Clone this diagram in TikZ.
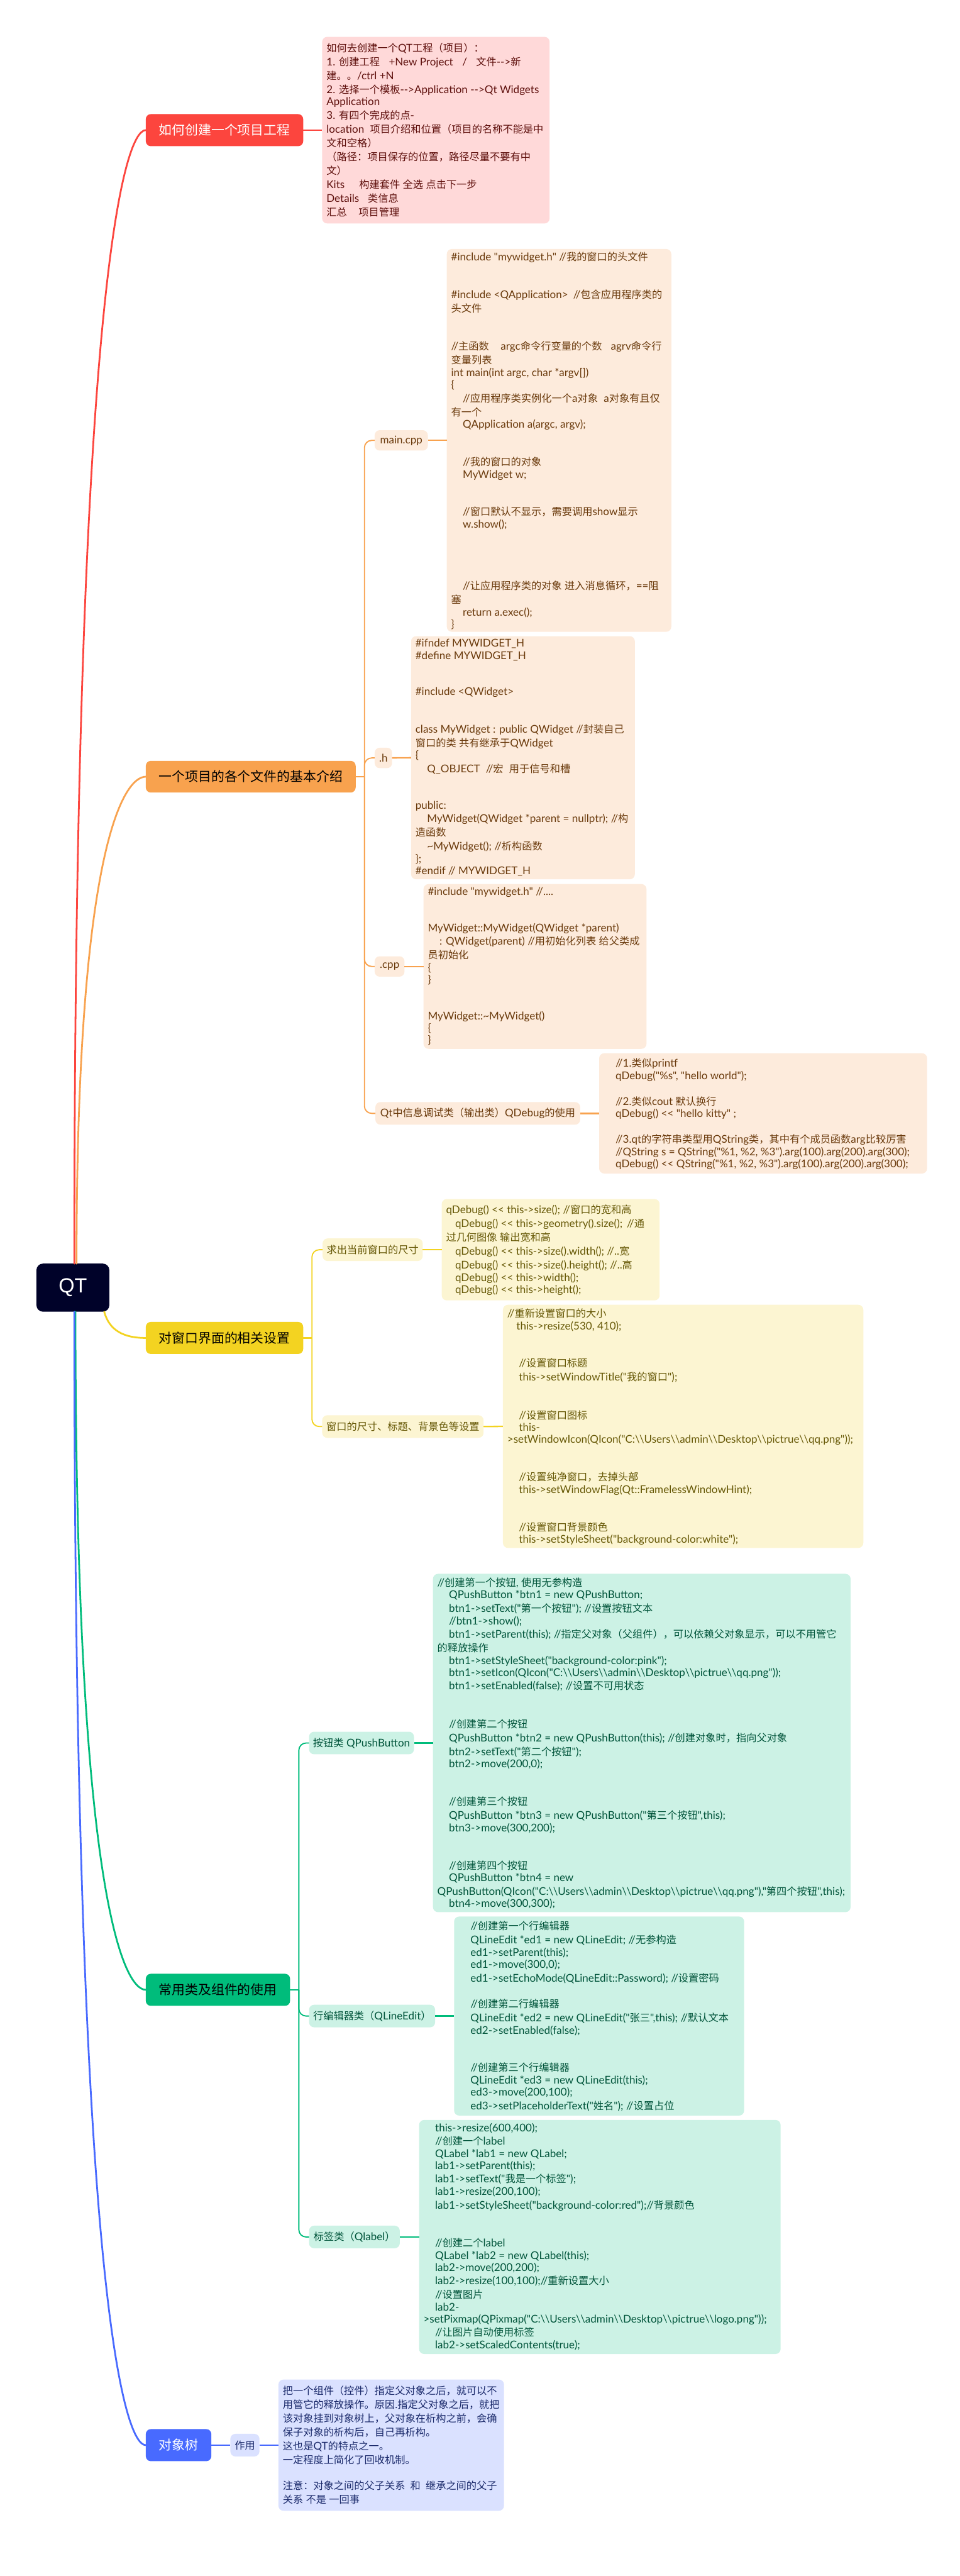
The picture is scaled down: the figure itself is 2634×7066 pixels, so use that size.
\documentclass[tikz,border=0pt]{standalone}
\usepackage{fontspec}
\newfontfamily\latinfont[Scale=1.05]{Lato}
\newfontfamily\cjkfont{Noto Sans CJK SC}
\newfontfamily\qtfont{Liberation Sans}
% CJK characters switch font by themselves
\XeTeXinterchartokenstate=1
\newcount\cjkcnt
\cjkcnt="2E80
\loop\ifnum\cjkcnt<"A000 \XeTeXcharclass\cjkcnt=1 \advance\cjkcnt by 1 \repeat
\cjkcnt="FF00
\loop\ifnum\cjkcnt<"FFF0 \XeTeXcharclass\cjkcnt=1 \advance\cjkcnt by 1 \repeat
\XeTeXinterchartoks 0 1 = {\cjkfont}
\XeTeXinterchartoks 4095 1 = {\cjkfont}
\XeTeXinterchartoks 1 0 = {\latinfont}
\XeTeXinterchartoks 1 4095 = {\latinfont}
\newdimen\pxu \pxu=0.5pt
\newcommand{\lL}[1]{\hbox{\vrule width0pt height12.5pt depth4pt\relax #1}}
\newcommand{\lC}[1]{\hbox{\vrule width0pt height14.5pt depth4.5pt\relax #1}}
\newcommand{\ikb}{\kern32\pxu}
\newcommand{\ika}{\kern25\pxu}
\newcommand{\sk}[1]{\kern#1\pxu}
\newcommand{\bsone}{\hbox to 12.5\pxu{\hss\textbackslash\hss}}
\newcommand{\bbs}{\bsone\bsone}
\newcommand{\tld}{\textasciitilde}
\newcommand{\notetext}[2]{\hbox to #1\pxu{\kern12\pxu\vbox{\offinterlineskip #2}\hss}}
\definecolor{redm}{HTML}{FC453E}\definecolor{redb}{HTML}{FFD9D9}\definecolor{redt}{HTML}{5E0F0C}
\definecolor{orm}{HTML}{F8A24E}\definecolor{orb}{HTML}{FDEBDC}\definecolor{ort}{HTML}{6A3A0C}
\definecolor{yem}{HTML}{F3D321}\definecolor{yeb}{HTML}{FCF5D2}\definecolor{yet}{HTML}{665806}
\definecolor{grm}{HTML}{00BC7B}\definecolor{grb}{HTML}{CCF2E5}\definecolor{grt}{HTML}{00543A}
\definecolor{blm}{HTML}{486AFF}\definecolor{blb}{HTML}{DAE1FF}\definecolor{blt}{HTML}{1B2A6B}
\definecolor{rootc}{HTML}{000229}
\tikzset{
 sz/.style 2 args={minimum width=#1*0.5pt,minimum height=#2*0.5pt},
 basebox/.style={rectangle,rounded corners=7pt,inner sep=0pt,outer sep=0pt},
 rootbox/.style={basebox,fill=rootc,text=white,rounded corners=9pt,font=\fontsize{28}{34}\selectfont\qtfont},
 mainbox/.style={basebox,font=\fontsize{18}{22}\selectfont\latinfont},
 kid/.style={basebox,font=\fontsize{14}{18}\selectfont\latinfont},
 notebox/.style={basebox,font=\fontsize{14}{18}\selectfont\latinfont},
 rootline/.style={line width=2.4pt,line cap=round},
 stem/.style={line width=2pt},
 trunk/.style={line width=1.6pt,rounded corners=10pt},
}
\begin{document}
\begin{tikzpicture}[x=0.5pt,y=-0.5pt]
\useasboundingbox (0,0) rectangle (2634,7066);
% root
\node[rootbox,sz={200}{132}] (qt) at (200,3532) {QT};
% main topics
\node[mainbox,sz={432}{88},fill=redm,text=white] (m1) at (616,357) {如何创建一个项目工程};
\node[mainbox,sz={576}{87},fill=orm,text=black] (m2) at (688,2130.5) {一个项目的各个文件的基本介绍};
\node[mainbox,sz={432}{88},fill=yem,text=black] (m3) at (616,3670) {对窗口界面的相关设置};
\node[mainbox,sz={396}{88},fill=grm,text=black] (m4) at (598,5458) {常用类及组件的使用};
\node[mainbox,sz={180}{88},fill=blm,text=white] (m5) at (490,6707) {对象树};
% red note
\node[notebox,sz={624}{512},fill=redb,text=redt] (n1) at (1196,357) {\notetext{624}{%
\lC{如何去创建一个QT工程（项目）：}
\lC{1. 创建工程\sk{25}+New Project\sk{25}/\sk{25}文件-->新}
\lC{建。。/ctrl +N}
\lC{2. 选择一个模板-->Application -->Qt Widgets}
\lL{Application}
\lC{3. 有四个完成的点-}
\lC{location\sk{16}项目介绍和位置（项目的名称不能是中}
\lC{文和空格）}
\lC{（路径：项目保存的位置，路径尽量不要有中}
\lC{文）}
\lC{Kits\sk{40}构建套件 全选 点击下一步}
\lC{Details\sk{24}类信息}
\lC{汇总\sk{32}项目管理}}};
% orange children
\node[kid,sz={146}{56},fill=orb,text=ort] (c21) at (1101,1208) {main.cpp};
\node[kid,sz={48}{56},fill=orb,text=ort] (c22) at (1052,2079) {.h};
\node[kid,sz={82}{56},fill=orb,text=ort] (c23) at (1069,2651) {.cpp};
\node[kid,sz={562}{62},fill=orb,text=ort] (c24) at (1311,3054) {Qt中信息调试类（输出类）QDebug的使用};
\node[notebox,sz={616}{1050},fill=orb,text=ort] (n21) at (1534,1208) {\notetext{616}{%
\lC{\#include "mywidget.h" //我的窗口的头文件}
\lL{}\lL{}
\lC{\#include <QApplication>\sk{14}//包含应用程序类的}
\lC{头文件}
\lL{}\lL{}
\lC{//主函数\sk{32}argc命令行变量的个数\sk{24}agrv命令行}
\lC{变量列表}
\lL{int main(int argc, char *argv[])}
\lL{\{}
\lC{\ikb//应用程序类实例化一个a对象\sk{16}a对象有且仅}
\lC{有一个}
\lL{\ikb QApplication a(argc, argv);}
\lL{}\lL{}
\lC{\ikb//我的窗口的对象}
\lL{\ikb MyWidget w;}
\lL{}\lL{}
\lC{\ikb//窗口默认不显示，需要调用show显示}
\lL{\ikb w.show();}
\lL{}\lL{}\lL{}\lL{}
\lC{\ikb//让应用程序类的对象 进入消息循环，==阻}
\lC{塞}
\lL{\ikb return a.exec();}
\lL{\}}}};
\node[notebox,sz={614}{667},fill=orb,text=ort] (n22) at (1435,2078.5) {\notetext{614}{%
\lL{\#ifndef MYWIDGET\_H}
\lL{\#define MYWIDGET\_H}
\lL{}\lL{}
\lL{\#include <QWidget>}
\lL{}\lL{}
\lC{class MyWidget : public QWidget //封装自己}
\lC{窗口的类 共有继承于QWidget}
\lL{\{}
\lC{\ikb Q\_OBJECT\sk{16}//宏\sk{16}用于信号和槽}
\lL{}\lL{}
\lL{public:}
\lC{\ikb MyWidget(QWidget *parent = nullptr); //构}
\lC{造函数}
\lC{\ikb\tld MyWidget(); //析构函数}
\lL{\};}
\lL{\#endif // MYWIDGET\_H}}};
\node[notebox,sz={612}{452},fill=orb,text=ort] (n23) at (1468,2651) {\notetext{612}{%
\lL{\#include "mywidget.h" //....}
\lL{}\lL{}
\lL{MyWidget::MyWidget(QWidget *parent)}
\lC{\ikb: QWidget(parent) //用初始化列表 给父类成}
\lC{员初始化}
\lL{\{}
\lL{\}}
\lL{}\lL{}
\lL{MyWidget::\tld MyWidget()}
\lL{\{}
\lL{\}}}};
\node[notebox,sz={900}{330},fill=orb,text=ort] (n24) at (2094,3054) {\notetext{900}{%
\lC{\kern33\pxu//1.类似printf}
\lL{\kern33\pxu qDebug("\%s", "hello world");}
\lL{}
\lC{\kern33\pxu//2.类似cout 默认换行}
\lL{\kern33\pxu qDebug() << "hello kitty" ;}
\lL{}
\lC{\kern33\pxu//3.qt的字符串类型用QString类，其中有个成员函数arg比较厉害}
\lL{\kern33\pxu//QString s = QString("\%1, \%2, \%3").arg(100).arg(200).arg(300);}
\lL{\kern33\pxu qDebug() << QString("\%1, \%2, \%3").arg(100).arg(200).arg(300);}}};
% yellow children
\node[kid,sz={275}{62},fill=yeb,text=yet] (c31) at (1022.5,3428) {求出当前窗口的尺寸};
\node[kid,sz={443}{62},fill=yeb,text=yet] (c32) at (1105.5,3913) {窗口的尺寸、标题、背景色等设置};
\node[notebox,sz={598}{278},fill=yeb,text=yet] (n31) at (1511,3428) {\notetext{598}{%
\lC{qDebug() << this->size(); //窗口的宽和高}
\lC{\ika qDebug() << this->geometry().size();\sk{12}//通}
\lC{过几何图像 输出宽和高}
\lC{\ika qDebug() << this->size().width(); //..宽}
\lC{\ika qDebug() << this->size().height(); //..高}
\lL{\ika qDebug() << this->width();}
\lL{\ika qDebug() << this->height();}}};
\node[notebox,sz={989}{667},fill=yeb,text=yet] (n32) at (1874.5,3912.5) {\notetext{989}{%
\lC{//重新设置窗口的大小}
\lL{\ika this->resize(530, 410);}
\lL{}\lL{}
\lC{\ikb//设置窗口标题}
\lC{\ikb this->setWindowTitle("我的窗口");}
\lL{}\lL{}
\lC{\ikb//设置窗口图标}
\lL{\ikb this-}
\lL{>setWindowIcon(QIcon("C:\bbs Users\bbs admin\bbs Desktop\bbs pictrue\bbs qq.png"));}
\lL{}\lL{}
\lC{\ikb//设置纯净窗口，去掉头部}
\lL{\ikb this->setWindowFlag(Qt::FramelessWindowHint);}
\lL{}\lL{}
\lC{\ikb//设置窗口背景颜色}
\lL{\ikb this->setStyleSheet("background-color:white");}}};
% green children
\node[kid,sz={288}{62},fill=grb,text=grt] (c41) at (992,4781) {按钮类 QPushButton};
\node[kid,sz={346}{62},fill=grb,text=grt] (c42) at (1021,5530) {行编辑器类（QLineEdit）};
\node[kid,sz={249}{62},fill=grb,text=grt] (c43) at (972.5,6136) {标签类（Qlabel）};
\node[notebox,sz={1146}{928},fill=grb,text=grt] (n41) at (1761,4781) {\notetext{1146}{%
\lC{//创建第一个按钮, 使用无参构造}
\lL{\ikb QPushButton *btn1 = new QPushButton;}
\lC{\ikb btn1->setText("第一个按钮"); //设置按钮文本}
\lL{\ikb//btn1->show();}
\lC{\ikb btn1->setParent(this); //指定父对象（父组件），可以依赖父对象显示，可以不用管它}
\lC{的释放操作}
\lL{\ikb btn1->setStyleSheet("background-color:pink");}
\lL{\ikb btn1->setIcon(QIcon("C:\bbs Users\bbs admin\bbs Desktop\bbs pictrue\bbs qq.png"));}
\lC{\ikb btn1->setEnabled(false); //设置不可用状态}
\lL{}\lL{}
\lC{\ikb//创建第二个按钮}
\lC{\ikb QPushButton *btn2 = new QPushButton(this); //创建对象时，指向父对象}
\lC{\ikb btn2->setText("第二个按钮");}
\lL{\ikb btn2->move(200,0);}
\lL{}\lL{}
\lC{\ikb//创建第三个按钮}
\lC{\ikb QPushButton *btn3 = new QPushButton("第三个按钮",this);}
\lL{\ikb btn3->move(300,200);}
\lL{}\lL{}
\lC{\ikb//创建第四个按钮}
\lL{\ikb QPushButton *btn4 = new}
\lC{QPushButton(QIcon("C:\bbs Users\bbs admin\bbs Desktop\bbs pictrue\bbs qq.png"),"第四个按钮",this);}
\lL{\ikb btn4->move(300,300);}}};
\node[notebox,sz={796}{546},fill=grb,text=grt] (n42) at (1644,5530) {\notetext{796}{%
\lC{\kern33\pxu//创建第一个行编辑器}
\lC{\kern33\pxu QLineEdit *ed1 = new QLineEdit; //无参构造}
\lL{\kern33\pxu ed1->setParent(this);}
\lL{\kern33\pxu ed1->move(300,0);}
\lC{\kern33\pxu ed1->setEchoMode(QLineEdit::Password); //设置密码}
\lL{}
\lC{\kern33\pxu//创建第二行编辑器}
\lC{\kern33\pxu QLineEdit *ed2 = new QLineEdit("张三",this); //默认文本}
\lL{\kern33\pxu ed2->setEnabled(false);}
\lL{}\lL{}
\lC{\kern33\pxu//创建第三个行编辑器}
\lL{\kern33\pxu QLineEdit *ed3 = new QLineEdit(this);}
\lL{\kern33\pxu ed3->move(200,100);}
\lC{\kern33\pxu ed3->setPlaceholderText("姓名"); //设置占位}}};
\node[notebox,sz={992}{642},fill=grb,text=grt] (n43) at (1646,6136) {\notetext{992}{%
\lL{\ikb this->resize(600,400);}
\lC{\ikb//创建一个label}
\lL{\ikb QLabel *lab1 = new QLabel;}
\lL{\ikb lab1->setParent(this);}
\lC{\ikb lab1->setText("我是一个标签");}
\lL{\ikb lab1->resize(200,100);}
\lC{\ikb lab1->setStyleSheet("background-color:red");//背景颜色}
\lL{}\lL{}
\lC{\ikb//创建二个label}
\lL{\ikb QLabel *lab2 = new QLabel(this);}
\lL{\ikb lab2->move(200,200);}
\lC{\ikb lab2->resize(100,100);//重新设置大小}
\lC{\ikb//设置图片}
\lL{\ikb lab2-}
\lL{>setPixmap(QPixmap("C:\bbs Users\bbs admin\bbs Desktop\bbs pictrue\bbs logo.png"));}
\lC{\ikb//让图片自动使用标签}
\lL{\ikb lab2->setScaledContents(true);}}};
% blue
\node[kid,sz={80}{62},fill=blb,text=blt] (c51) at (672,6707) {作用};
\node[notebox,sz={619}{360},fill=blb,text=blt] (n51) at (1073.5,6707) {\notetext{619}{%
\lC{把一个组件（控件）指定父对象之后，就可以不}
\lC{用管它的释放操作。原因.指定父对象之后，就把}
\lC{该对象挂到对象树上，父对象在析构之前，会确}
\lC{保子对象的析构后，自己再析构。}
\lC{这也是QT的特点之一。}
\lC{一定程度上简化了回收机制。}
\lL{}
\lC{注意：对象之间的父子关系\sk{14}和\sk{14}继承之间的父子}
\lC{关系 不是 一回事}}};
% trunk coordinates
\coordinate (t2) at (1000,2130.5);
\coordinate (t3) at (856,3670);
\coordinate (t4) at (820,5458);
% root curves
\draw[rootline,redm] ([xshift=2pt]qt.north) .. controls (204,800) and (340,357) .. (m1.west);
\draw[rootline,orm] ([xshift=5pt]qt.north) .. controls (210,2317) and (341,2130.5) .. (m2.west);
\draw[rootline,yem] ([xshift=43pt]qt.south) .. controls (300,3650) and (340,3670) .. (m3.west);
\draw[rootline,grm] ([xshift=3.5pt]qt.south) .. controls (207,5198) and (340,5458) .. (m4.west);
\draw[rootline,blm] ([xshift=2pt]qt.south) .. controls (204,6272) and (340,6707) .. (m5.west);
% red connector
\draw[stem,redm] (m1.east) -- (n1.west);
% orange connectors
\draw[stem,orm] (m2.east) -- (t2);
\foreach \c in {c21,c22,c23,c24} \draw[trunk,orm] (t2) |- (\c.west);
\draw[stem,orm] (c21.east) -- (n21.west);
\draw[stem,orm] (c22.east) -- (n22.west);
\draw[stem,orm] (c23.east) -- (n23.west);
\draw[stem,orm] (c24.east) -- (n24.west);
% yellow connectors
\draw[stem,yem] (m3.east) -- (t3);
\foreach \c in {c31,c32} \draw[trunk,yem] (t3) |- (\c.west);
\draw[stem,yem] (c31.east) -- (n31.west);
\draw[stem,yem] (c32.east) -- (n32.west);
% green connectors
\draw[stem,grm] (m4.east) -- (t4);
\foreach \c in {c41,c42,c43} \draw[trunk,grm] (t4) |- (\c.west);
\draw[stem,grm] (c41.east) -- (n41.west);
\draw[stem,grm] (c42.east) -- (n42.west);
\draw[stem,grm] (c43.east) -- (n43.west);
% blue connectors
\draw[stem,blm] (m5.east) -- (c51.west);
\draw[stem,blm] (c51.east) -- (n51.west);
\end{tikzpicture}
\end{document}
